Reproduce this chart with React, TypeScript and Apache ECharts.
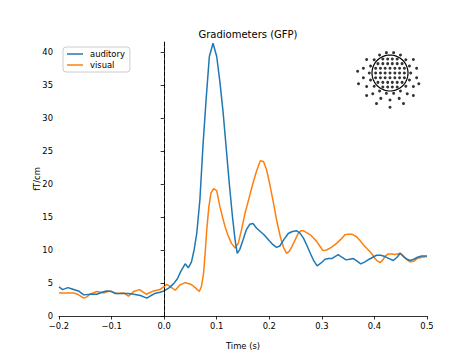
import React, { useEffect, useRef } from "react";
import * as echarts from "echarts";

const title = "Gradiometers (GFP)";
const seriesNames = ["auditory", "visual"];
const xTicks = [-0.2, -0.1, 0.0, 0.1, 0.2, 0.3, 0.4, 0.5];
const yTicks = [0, 5, 10, 15, 20, 25, 30, 35, 40];

const audT = [-0.2, -0.193, -0.183, -0.175, -0.163, -0.153, -0.14, -0.128, -0.118, -0.11, -0.1, -0.093, -0.08, -0.068, -0.058, -0.045, -0.033, -0.025, -0.018, -0.008, 0.0, 0.01, 0.018, 0.025, 0.032, 0.04, 0.046, 0.052, 0.057, 0.062, 0.068, 0.074, 0.08, 0.086, 0.093, 0.1, 0.106, 0.112, 0.118, 0.124, 0.13, 0.135, 0.139, 0.144, 0.15, 0.156, 0.163, 0.169, 0.176, 0.183, 0.19, 0.2, 0.207, 0.214, 0.22, 0.228, 0.236, 0.244, 0.252, 0.258, 0.265, 0.272, 0.278, 0.285, 0.291, 0.298, 0.306, 0.313, 0.319, 0.325, 0.331, 0.338, 0.346, 0.353, 0.36, 0.367, 0.374, 0.382, 0.39, 0.397, 0.404, 0.412, 0.42, 0.428, 0.436, 0.443, 0.449, 0.455, 0.462, 0.468, 0.475, 0.482, 0.49, 0.5];
const audV = [4.4, 4.0, 4.3, 4.1, 3.8, 3.2, 3.3, 3.3, 3.6, 3.8, 3.7, 3.4, 3.4, 3.4, 3.3, 3.1, 2.7, 3.1, 3.4, 3.6, 3.8, 4.3, 4.9, 5.6, 6.8, 7.9, 7.3, 8.2, 10, 12.5, 17.6, 26, 33, 39.3, 41.3, 39.3, 35.5, 31, 25.5, 20, 15, 11.5, 9.5, 10.1, 11.5, 13, 13.9, 14.0, 13.3, 12.8, 12.3, 11.4, 10.8, 10.4, 10.6, 11.6, 12.5, 12.8, 12.9, 12.6, 11.8, 10.6, 9.5, 8.3, 7.6, 8.0, 8.6, 8.7, 8.7, 9.0, 9.3, 8.9, 8.5, 8.6, 8.7, 8.3, 7.9, 8.2, 8.6, 8.9, 9.2, 9.2, 9.0, 8.7, 8.4, 8.9, 9.5, 9.0, 8.6, 8.4, 8.6, 8.9, 9.1, 9.1];

const visT = [-0.2, -0.185, -0.172, -0.165, -0.153, -0.147, -0.141, -0.128, -0.114, -0.103, -0.09, -0.077, -0.068, -0.058, -0.047, -0.034, -0.02, -0.008, 0.005, 0.011, 0.021, 0.03, 0.04, 0.048, 0.053, 0.059, 0.067, 0.071, 0.075, 0.078, 0.081, 0.085, 0.089, 0.094, 0.1, 0.106, 0.111, 0.116, 0.121, 0.128, 0.135, 0.141, 0.147, 0.154, 0.162, 0.17, 0.176, 0.183, 0.189, 0.195, 0.2, 0.208, 0.214, 0.221, 0.227, 0.233, 0.238, 0.243, 0.249, 0.255, 0.26, 0.265, 0.272, 0.278, 0.284, 0.29, 0.296, 0.302, 0.309, 0.318, 0.328, 0.336, 0.344, 0.35, 0.357, 0.366, 0.373, 0.379, 0.386, 0.392, 0.397, 0.401, 0.406, 0.411, 0.416, 0.42, 0.426, 0.433, 0.439, 0.444, 0.449, 0.455, 0.462, 0.468, 0.475, 0.481, 0.49, 0.5];
const visV = [3.5, 3.5, 3.5, 3.3, 2.7, 2.9, 3.3, 3.7, 3.5, 3.8, 3.4, 3.5, 3.0, 3.7, 4.0, 3.3, 3.8, 4.0, 4.8, 4.5, 3.9, 4.7, 5.05, 4.9, 4.7, 4.3, 3.7, 4.5, 6.5, 9.5, 13, 16.5, 18.6, 19.3, 19.0, 16.6, 15, 13.5, 12.3, 11.0, 10.3, 11.0, 13, 15.6, 18, 20.4, 22, 23.5, 23.4, 22.1, 20.3, 17.1, 14.5, 12, 10.4, 9.5, 9.8, 10.5, 11.5, 12.5, 12.9, 12.9, 12.6, 12.3, 11.8, 11.3, 10.6, 9.9, 10.0, 10.4, 11.0, 11.6, 12.3, 12.4, 12.4, 12.0, 11.4, 10.8, 10.2, 9.7, 9.2, 8.7, 8.3, 8.1, 8.5, 9.0, 9.4, 9.4, 9.3, 9.4, 9.5, 9.1, 8.5, 8.2, 8.3, 8.7, 8.9, 9.0];

// sensor layout (head-radius units, y downward)
const sensorX = [
  -0.4, -0.13, 0.13, 0.4,
  -0.67, -0.4, -0.13, 0.13, 0.4, 0.67,
  -0.8, -0.53, -0.27, 0, 0.27, 0.53, 0.8,
  -0.8, -0.53, -0.27, 0, 0.27, 0.53, 0.8,
  -0.8, -0.53, -0.27, 0, 0.27, 0.53, 0.8,
  -0.67, -0.4, -0.13, 0.13, 0.4, 0.67,
  -0.4, -0.13, 0.13, 0.4,
  1.15, 1.08, 0.88, 0.58, 0.2, -0.2, -0.58, -0.88, -1.08, -1.15, -1.08, -0.88, -0.58, -0.2, 0.2, 0.58, 0.88, 1.08,
  1.48, 1.3, 0.96, 0.51, 0, -0.51, -0.96, -1.3, -1.48, -1.48, -1.3, 1.3, 1.48,
  1.6, 1.3, 0.75, 0, -0.75, -1.3, -1.75, -1.8,
];
const sensorY = [
  -0.78, -0.78, -0.78, -0.78,
  -0.52, -0.52, -0.52, -0.52, -0.52, -0.52,
  -0.26, -0.26, -0.26, -0.26, -0.26, -0.26, -0.26,
  0, 0, 0, 0, 0, 0, 0,
  0.26, 0.26, 0.26, 0.26, 0.26, 0.26, 0.26,
  0.52, 0.52, 0.52, 0.52, 0.52, 0.52,
  0.78, 0.78, 0.78, 0.78,
  0, 0.39, 0.74, 1.0, 1.13, 1.13, 1.0, 0.74, 0.39, 0, -0.39, -0.74, -1.0, -1.13, -1.13, -1.0, -0.74, -0.39,
  0.26, 0.75, 1.15, 1.41, 1.5, 1.41, 1.15, 0.75, 0.26, -0.26, -0.75, -0.75, -0.26,
  0.6, 1.25, 1.7, 1.9, 1.7, 1.25, 0.6, -0.1,
];

const font = "DejaVu Sans";
const fs = 8.4;

export default function App() {
  const ref = useRef<HTMLDivElement>(null);
  useEffect(() => {
    if (!ref.current) return;
    const chart = echarts.init(ref.current, null, { renderer: "svg" });
    const audData = audT.map((t, i) => [t, audV[i]]);
    const visData = visT.map((t, i) => [t, visV[i]]);
    const sensors = sensorX.map((x, i) => [x, sensorY[i]]);
    const circle = Array.from({ length: 73 }, (_, i) => {
      const a = (i * 5 * Math.PI) / 180;
      return [Math.cos(a), Math.sin(a)];
    });
    chart.setOption({
      animation: false,
      backgroundColor: "#ffffff",
      textStyle: { fontFamily: font },
      title: {
        text: title,
        left: 243,
        top: 24,
        textAlign: "center",
        textStyle: { fontFamily: font, fontSize: 10, fontWeight: "normal", color: "#000" },
      },
      legend: {
        data: seriesNames,
        orient: "vertical",
        left: 63,
        top: 47,
        padding: [3, 5, 3, 4],
        itemGap: 3,
        itemWidth: 16,
        itemHeight: 1.5,
        icon: "rect",
        borderColor: "#cccccc",
        borderWidth: 1,
        borderRadius: 3,
        backgroundColor: "#ffffff",
        textStyle: { fontFamily: font, fontSize: fs, color: "#000", padding: [0, 0, 0, 2] },
      },
      grid: [
        { left: 59, right: 47, top: 42, bottom: 39 },
        { left: 354, top: 51.4, width: 72, height: 59.4 },
      ],
      xAxis: [
        {
          type: "value",
          gridIndex: 0,
          min: -0.2,
          max: 0.5,
          interval: 0.1,
          name: "Time (s)",
          nameLocation: "middle",
          nameGap: 26,
          nameMoveOverlap: false,
          nameTextStyle: { fontFamily: font, fontSize: fs, color: "#000" },
          splitLine: { show: false },
          axisLine: { lineStyle: { color: "#000", width: 0.8 } },
          axisTick: { length: 3.5, lineStyle: { color: "#000", width: 0.8 } },
          axisLabel: {
            margin: 6,
            fontFamily: font,
            fontSize: fs,
            color: "#000",
            formatter: (v: number) => {
              const idx = xTicks.findIndex((t) => Math.abs(t - v) < 1e-9);
              if (idx < 0) return "";
              const s = Math.abs(xTicks[idx]).toFixed(1);
              return xTicks[idx] < 0 ? "\u2212" + s : s;
            },
          },
        },
        { type: "value", gridIndex: 1, min: -2, max: 2, show: false },
      ],
      yAxis: [
        {
          type: "value",
          gridIndex: 0,
          min: 0,
          max: 41.5,
          name: "fT/cm",
          nameLocation: "middle",
          nameGap: 18,
          nameMoveOverlap: false,
          nameTextStyle: { fontFamily: font, fontSize: fs, color: "#000" },
          splitLine: { show: false },
          axisLine: { show: true, lineStyle: { color: "#000", width: 0.8 } },
          axisTick: { show: true, length: 3.5, customValues: yTicks, lineStyle: { color: "#000", width: 0.8 } },
          axisLabel: { margin: 6, fontFamily: font, fontSize: fs, color: "#000", customValues: yTicks },
        },
        { type: "value", gridIndex: 1, min: -1.2, max: 2.1, inverse: true, show: false },
      ],
      series: [
        {
          name: seriesNames[0],
          type: "line",
          data: audData,
          xAxisIndex: 0,
          yAxisIndex: 0,
          showSymbol: false,
          symbol: "none",
          color: "#1f77b4",
          lineStyle: { width: 1.5, color: "#1f77b4" },
          z: 3,
          markLine: {
            silent: true,
            symbol: "none",
            label: { show: false },
            emphasis: { disabled: true },
            lineStyle: { type: [4, 2], color: "#000", width: 1, opacity: 1 },
            data: [{ xAxis: 0 }],
          },
        },
        {
          name: seriesNames[1],
          type: "line",
          data: visData,
          xAxisIndex: 0,
          yAxisIndex: 0,
          showSymbol: false,
          symbol: "none",
          color: "#ff7f0e",
          lineStyle: { width: 1.5, color: "#ff7f0e" },
          z: 2,
        },
        {
          name: "head",
          type: "line",
          data: circle,
          xAxisIndex: 1,
          yAxisIndex: 1,
          showSymbol: false,
          symbol: "none",
          lineStyle: { width: 1.2, color: "#000" },
          silent: true,
        },
        {
          name: "sensors",
          type: "scatter",
          data: sensors,
          xAxisIndex: 1,
          yAxisIndex: 1,
          symbolSize: 3,
          itemStyle: { color: "#000" },
          silent: true,
        },
      ],
    });
    return () => chart.dispose();
  }, []);
  return <div ref={ref} style={{ position: "fixed", left: 0, top: 0, width: 474, height: 355 }} />;
}
